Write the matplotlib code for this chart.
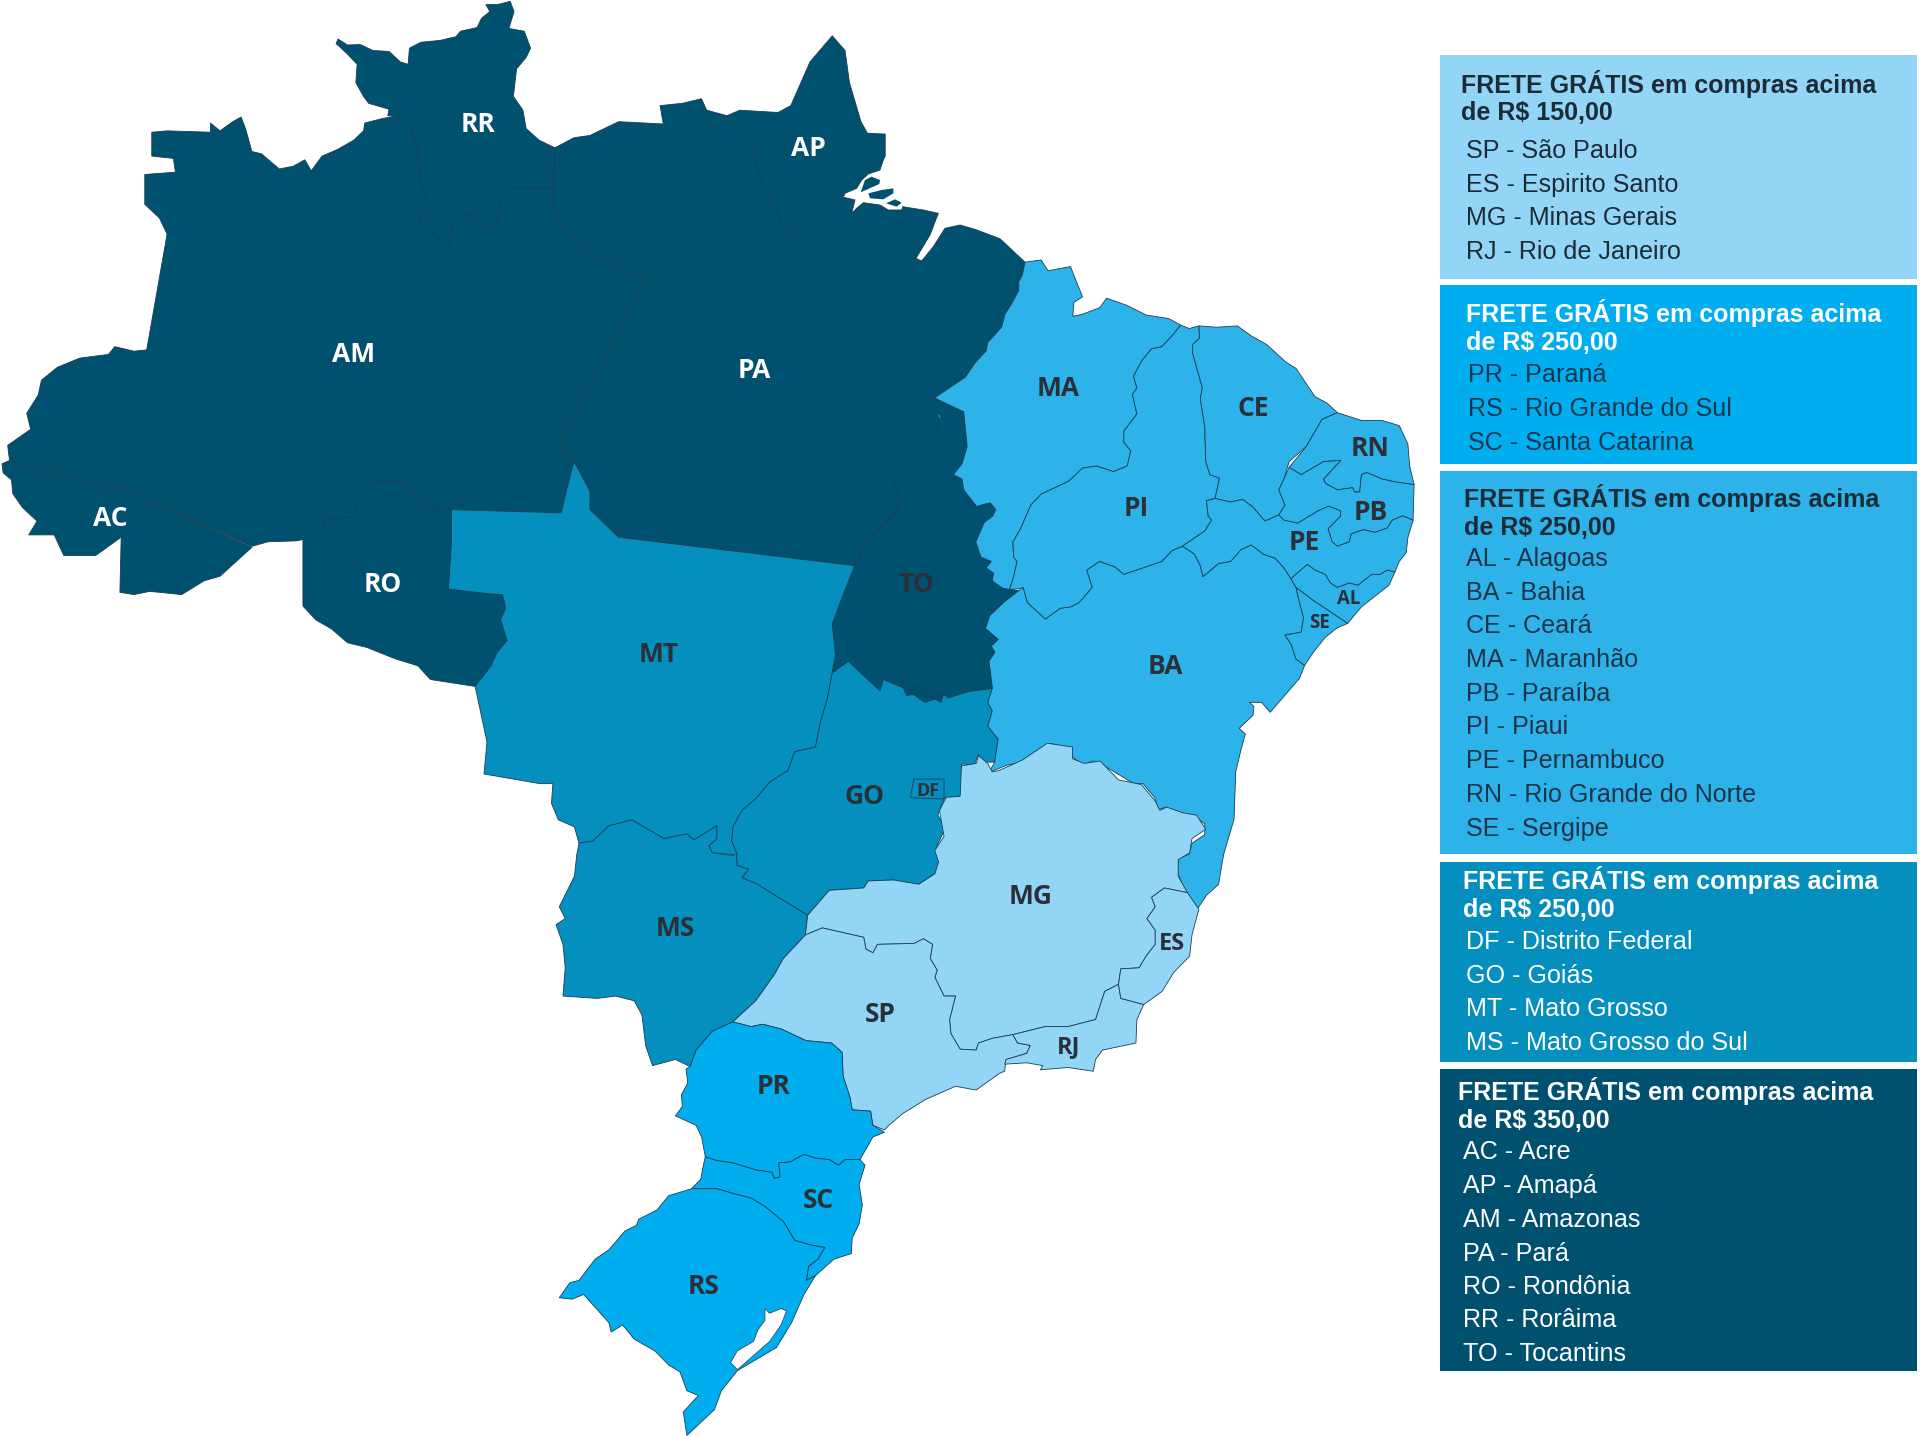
import numpy as np
import matplotlib
matplotlib.use("Agg")
import matplotlib.pyplot as plt
from matplotlib.patches import Polygon, Rectangle

W, H = 1920, 1437

# state outlines were traced on stretched crops of the picture, each helper maps back to pixels
def z2(p):
    return [(x / 1.568, y / 2.178) for x, y in p]
def z3(p):
    return [(900 + x / 2.904, 260 + y / 2.306) for x, y in p]
def z4(p):
    return [(540 + x / 2.178, 700 + y / 2.128) for x, y in p]
def z7(p):
    return [(830 + x / 3, 160 + y / 3) for x, y in p]

DARK, MID, SKY, BRIGHT, PALE = "#005170", "#048FBF", "#2DB3EA", "#00AEEF", "#92D5F6"

AM = z2([(238,288),(262,285),(330,288),(330,268),(345,285),(365,265),(378,255),(385,280),(395,330),(410,335),
         (438,368),(460,362),(478,348),(488,372),(505,340),(530,325),(555,305),(570,285),(572,268),(600,258),
         (620,253),(870,322),(868,410),(868,450),(880,490),(910,525),(935,560),(965,580),(985,605),(1017,600),
         (878,960),(900,1005),(888,1070),(880,1117),(708,1110),(600,1180),(475,1175),(465,1178),(420,1180),(395,1190),
         (195,1068),(105,1040),(15,1003),(12,970),(48,935),(42,900),(60,860),(65,828),(90,800),(125,780),(170,772),
         (180,755),(210,765),(230,762),(262,510),(250,475),(227,445),(227,380),(275,375),(272,345),(238,340)])
AC = z2([(15,1003),(3,1010),(5,1030),(18,1045),(20,1075),(35,1105),(58,1135),(45,1165),(85,1165),(100,1210),
         (150,1210),(190,1170),(188,1290),(210,1295),(235,1288),(285,1295),(320,1265),(345,1255),(395,1192),
         (195,1068),(105,1040)])
RR = z2([(622,253),(608,252),(610,238),(578,225),(570,210),(558,180),(560,140),(545,118),(527,95),(530,85),
         (545,98),(565,97),(585,110),(610,112),(628,135),(640,140),(642,105),(660,92),(690,88),(715,80),(722,68),
         (748,60),(755,40),(768,25),(762,10),(780,10),(800,3),(806,25),(798,62),(822,68),(832,105),(825,125),
         (810,150),(805,210),(820,240),(825,280),(845,305),(870,322),(868,410),(798,408),(785,440),(778,485),
         (760,493),(735,463),(712,480),(703,535),(657,483),(670,450),(658,385),(655,330),(645,280)])
PA = (z2([(870,322),(900,300),(925,295),(970,265),(1040,270),(1035,230),(1070,225),(1100,215),(1108,240),
          (1200,300),(1250,350),(1300,435)])
      + z7([(42,112),(75,120),(65,160),(80,145),(100,128),(150,135),(175,150),(215,150),(218,140),(280,150),
            (325,160),(300,225),(258,295),(275,303),(310,260),(345,205),(390,195)])
      + z2([(1530,500),(1568,520)])
      + z3([(363,5),(355,35),(345,50),(345,70),(325,100),(305,125),(295,155),(255,190),(250,210),(220,235),
            (190,270),(100,318),(150,400)])
      + z2([(1480,1000),(1430,1200),(1340,1232),(970,1170),(925,1110),(925,1070),(900,1005),(878,960),(1017,600),
            (985,605),(965,580),(935,560),(910,525),(880,490),(868,450),(868,410)]))
AP = (z2([(1108,240),(1140,252),(1160,240),(1220,245),(1240,230),(1270,135),(1305,78),(1325,110),(1332,180),
          (1350,265),(1360,290),(1388,292),(1388,340)])
      + z7([(160,0),(150,30),(115,42),(95,60),(80,85),(45,100),(42,108),(20,118),(0,135)])
      + z2([(1275,490),(1245,520),(1230,500),(1212,440),(1195,400),(1180,320),(1150,295),(1108,270)]))
MARAJO_A = z7([(105,60),(125,50),(150,60),(148,72),(92,97)])
MARAJO_B = z7([(115,100),(155,90),(190,85),(190,100),(160,118),(120,115)])
MARAJO_C = z7([(168,130),(195,118),(215,128),(200,140)])
MT = (z2([(708,1110),(880,1117),(888,1070),(900,1005),(925,1070),(925,1110),(970,1170),(1340,1232),(1400,1350),
          (1340,1400),(1330,1440),(1305,1465),(1295,1540)])
      + z4([(625,0),(610,50),(600,100),(555,110),(540,150),(500,175),(470,210),(440,235),(420,270),(418,300),
            (430,330),(375,325),(368,310),(385,295),(385,268),(335,298),(320,285),(270,295),(200,255),(150,268),
            (115,300),(85,305),(75,270),(40,255),(25,220),(28,178),(0,178)])
      + [(484,774), (487,742)]
      + z2([(745,1495),(703,1283)]))
MS = z4([(85,305),(115,300),(150,268),(200,255),(270,295),(320,285),(335,298),(385,268),(385,295),(368,310),
         (375,325),(428,332),(430,352),(455,360),(440,378),(470,390),(520,420),(583,458),(578,500),(530,550),
         (510,585),(470,640),(420,685),(375,705),(340,745),(327,780),(295,765),(245,778),(230,735),(222,670),
         (205,640),(165,630),(125,635),(50,630),(55,570),(50,520),(35,478),(55,465),(42,440),(75,375),(80,330)])
GO = (z4([(625,0),(610,50),(600,100),(555,110),(540,150),(500,175),(470,210),(440,235),(420,270),(418,300),
          (430,330),(428,332),(430,352),(455,360),(440,378),(470,390),(520,420),(583,458),(630,405),(705,400),
          (715,385),(770,383),(825,392),(860,370)])
      + z3([(108,1415),(118,1380),(105,1355),(132,1310),(110,1280),(128,1243),(178,1235),(185,1190),(180,1162),
            (215,1165),(228,1140),(235,1158),(275,1158),(285,1105),(255,1075),(268,1040),(255,1020),(268,988)])
      + z2([(1330,1440),(1305,1465)]))
DF = z3([(40,1197),(128,1197),(128,1243),(30,1240)])
TO = (z2([(1340,1232),(1360,1180),(1405,1115),(1410,1085),(1400,1050),(1415,1000),(1465,950),(1475,905),(1450,875)])
      + z3([(70,325),(100,318),(185,350),(195,430),(180,470),(155,495),(180,505),(185,530),(222,568),(262,560),
            (278,575),(270,590),(245,605),(220,650),(235,685),(265,695),(250,710),(272,722),(268,740),(300,758),
            (345,762),(300,790),(260,820),(248,850),(285,875),(265,890),(275,905),(258,925),(268,988),(200,995),
            (140,1010),(125,1000),(120,1020),(60,995),(20,1005),(0,970)])
      + z2([(1480,1515),(1450,1530),(1420,1500),(1385,1480),(1380,1505),(1330,1440),(1305,1465),(1310,1425),
            (1305,1360),(1318,1310)]))
RO = z2([(475,1175),(475,1320),(495,1350),(520,1370),(545,1400),(575,1410),(620,1435),(655,1450),(675,1480),
         (745,1495),(770,1450),(780,1420),(795,1395),(785,1350),(793,1325),(788,1295),(765,1293),(703,1283),
         (708,1180),(708,1110),(690,1095),(685,1115),(660,1090),(635,1050),(590,1048),(565,1085),(555,1125),
         (510,1132),(505,1155)])
MA = z3([(363,5),(410,0),(430,25),(495,15),(530,85),(505,98),(502,130),(530,125),(580,110),(600,88),(660,105),
         (715,127),(780,135),(815,150),(790,175),(760,200),(730,205),(700,235),(678,268),(688,295),(675,310),
         (688,355),(650,395),(650,420),(670,440),(660,475),(620,488),(570,475),(530,480),(490,510),(410,540),
         (380,565),(350,620),(328,650),(330,685),(340,695),(330,730),(318,760),(250,750),(150,500),(100,318),
         (190,270),(220,235),(250,210),(255,190),(295,155),(305,125),(325,100),(345,70),(345,50),(355,35)])
PI = z3([(815,150),(840,158),(868,152),(870,180),(850,195),(850,215),(878,295),(872,320),(885,385),(888,465),
         (900,495),(928,503),(915,550),(890,555),(895,590),(905,600),(885,625),(820,660),(790,670),(760,695),
         (650,725),(625,708),(580,695),(542,715),(558,755),(520,790),(495,800),(465,803),(422,828),(370,790),
         (358,755),(345,758),(318,760),(330,730),(340,695),(330,685),(328,650),(350,620),(380,565),(410,540),
         (490,510),(530,480),(570,475),(620,488),(660,475),(670,440),(650,420),(650,395),(688,355),(675,310),
         (688,295),(678,268),(700,235),(730,205),(760,200),(790,175)])
CE = z3([(868,152),(920,155),(980,152),(1020,175),(1065,195),(1120,235),(1150,250),(1205,315),(1240,330),
         (1270,352),(1225,368),(1180,430),(1130,465),(1115,505),(1100,530),(1118,565),(1100,588),(1060,602),
         (1025,570),(995,552),(960,558),(915,550),(928,503),(900,495),(888,465),(885,385),(872,320),(878,295),
         (850,215),(850,195),(870,180)])
RN = z3([(1270,352),(1340,370),(1400,370),(1450,382),(1475,425),(1480,475),(1493,518),(1440,512),(1400,505),
         (1355,490),(1340,495),(1335,535),(1320,535),(1315,525),(1270,530),(1235,515),(1230,505),(1280,462),
         (1230,465),(1165,495),(1130,478),(1180,430),(1225,368)])
PB = z3([(1130,478),(1165,495),(1230,465),(1280,462),(1230,505),(1235,515),(1270,530),(1315,525),(1320,535),
         (1335,535),(1340,495),(1355,490),(1400,505),(1440,512),(1493,518),(1490,600),(1460,590),(1430,600),
         (1415,618),(1380,628),(1345,622),(1310,632),(1305,650),(1270,660),(1255,650),(1243,620),(1280,590),
         (1278,578),(1245,568),(1215,578),(1155,607),(1115,600),(1100,588),(1118,565),(1100,530),(1115,505)])
PE = z3([(890,555),(915,550),(960,558),(995,552),(1025,570),(1060,602),(1100,588),(1115,600),(1155,607),(1215,578),
         (1245,568),(1278,578),(1280,590),(1243,620),(1255,650),(1270,660),(1305,650),(1310,632),(1345,622),
         (1380,628),(1415,618),(1430,600),(1460,590),(1490,600),(1475,640),(1470,675),(1450,695),(1437,720),
         (1415,715),(1395,725),(1370,725),(1330,750),(1305,745),(1270,755),(1250,745),(1235,725),(1205,715),
         (1183,702),(1135,735),(1115,710),(1090,688),(1055,678),(1020,657),(990,668),(960,695),(925,700),(880,730),
         (872,705),(855,678),(820,660),(885,625),(905,600),(895,590)])
AL = z3([(1135,735),(1183,702),(1205,715),(1235,725),(1250,745),(1270,755),(1305,745),(1330,750),(1370,725),
         (1395,725),(1415,715),(1437,720),(1420,750),(1380,775),(1340,800),(1300,838),(1200,785),(1150,755)])
SE = z3([(1150,755),(1200,785),(1300,838),(1270,848),(1235,870),(1200,905),(1175,935),(1150,920),(1135,885),
         (1118,865),(1165,858),(1172,825),(1160,790)])
BA = z3([(300,790),(345,762),(358,755),(370,790),(422,828),(465,803),(495,800),(520,790),(558,755),(542,715),
         (580,695),(625,708),(650,725),(760,695),(790,670),(820,660),(855,678),(872,705),(880,730),(925,700),
         (960,695),(990,668),(1020,657),(1055,678),(1090,688),(1115,710),(1135,735),(1150,755),(1160,790),
         (1172,825),(1165,858),(1118,865),(1135,885),(1150,920),(1175,935),(1160,965),(1075,1043),(1050,1020),
         (1015,1020),(1028,1030),(1025,1050),(985,1080),(1003,1093),(990,1130),(975,1180),(970,1290),(940,1370),
         (925,1440),(890,1465),(865,1495),(830,1460),(805,1410),(810,1380),(840,1370),(848,1345),(885,1325),
         (885,1300),(860,1285),(800,1270),(770,1262),(750,1268),(740,1240),(705,1207),(680,1208),(590,1165),
         (560,1155),(530,1165),(500,1145),(500,1125),(435,1115),(390,1135),(345,1160),(310,1165),(258,1182),
         (275,1158),(285,1105),(255,1075),(268,1040),(255,1020),(268,988),(258,925),(275,905),(265,890),(285,875),
         (248,850),(260,820)])
MG = z4([(583,458),(630,405),(705,400),(715,385),(770,383),(825,392),(860,370),(868,345),(860,320),(880,290),
         (870,235),(885,207),(915,205),(918,140),(950,135),(955,118),(975,135),(985,153),(1000,150),(1050,128),
         (1105,92),(1160,100),(1160,125),(1185,135),(1220,130),(1260,170),(1310,180),(1340,215),(1350,235),
         (1365,228),(1400,240),(1430,245),(1450,275),(1420,295),(1415,325),(1390,340),(1390,375),(1410,410),
         (1360,400),(1332,420),(1340,440),(1322,465),(1340,490),(1340,520),(1320,545),(1305,570),(1265,572),
         (1260,605),(1230,620),(1210,680),(1150,695),(1100,695),(1030,712),(985,720),(955,730),(950,745),(915,743),
         (895,710),(892,680),(905,630),(880,630),(860,590),(865,575),(850,550),(855,520),(835,508),(815,518),
         (735,520),(725,538),(710,530),(705,505),(660,495),(615,485),(578,500)])
SP = z4([(578,500),(615,485),(660,495),(705,505),(710,530),(725,538),(735,520),(815,518),(835,508),(855,520),
         (850,550),(865,575),(860,590),(880,630),(905,630),(892,680),(895,710),(915,743),(950,745),(955,730),
         (985,720),(1030,712),(1040,730),(1068,735),(1060,752),(1015,765),(1012,790),(1000,795),(950,830),(905,822),
         (840,850),(790,880),(760,905),(750,915),(725,905),(720,875),(680,872),(675,845),(660,800),(658,750),
         (635,730),(580,725),(525,700),(485,690),(460,695),(420,685),(470,640),(510,585),(530,550)])
RJ = z4([(1030,712),(1100,695),(1150,695),(1210,680),(1230,620),(1260,605),(1265,635),(1315,648),(1300,680),
         (1298,730),(1225,745),(1210,765),(1205,790),(1150,782),(1090,787),(1095,778),(1060,772),(1012,775),
         (1015,765),(1060,752),(1068,735),(1040,730)])
ES = z4([(1360,400),(1410,410),(1435,445),(1420,500),(1415,545),(1380,580),(1355,620),(1315,648),(1265,635),
         (1260,605),(1265,572),(1305,570),(1320,545),(1340,520),(1340,490),(1322,465),(1340,440),(1332,420)])
PR = z4([(420,685),(375,705),(340,745),(327,780),(318,785),(322,815),(308,840),(310,865),(295,885),(340,905),
         (352,930),(360,972),(385,980),(420,985),(470,1000),(505,1005),(510,1018),(523,1015),(520,985),(545,983),
         (575,967),(600,975),(630,978),(650,990),(665,978),(697,978),(725,930),(750,920),(725,905),(720,875),
         (680,872),(675,845),(660,800),(658,750),(635,730),(580,725),(525,700),(485,690),(460,695)])
SC = z4([(360,972),(385,980),(420,985),(470,1000),(505,1005),(510,1018),(523,1015),(520,985),(545,983),(575,967),
         (600,975),(630,978),(650,990),(665,978),(697,978),(708,990),(695,1030),(702,1075),(695,1115),(680,1145),
         (678,1178),(640,1190),(600,1225),(580,1235),(585,1205),(605,1190),(620,1165),(590,1160),(555,1150),
         (530,1110),(490,1078),(460,1060),(420,1050),(385,1040),(330,1040),(350,1020),(357,985)])
RS = z4([(330,1040),(385,1040),(420,1050),(460,1060),(490,1078),(530,1110),(555,1150),(590,1160),(620,1165),
         (605,1190),(585,1205),(580,1235),(600,1225),(575,1265),(548,1325),(515,1378),(430,1427),(395,1470),
         (380,1510),(320,1565),(312,1515),(345,1480),(320,1470),(305,1430),(280,1415),(250,1385),(205,1360),
         (180,1330),(155,1345),(150,1325),(95,1265),(70,1275),(42,1272),(65,1240),(85,1235),(120,1190),(150,1170),
         (185,1130),(210,1118),(215,1105),(255,1085),(280,1055)])
LAGOON = z4([(490,1295),(500,1305),(525,1295),(537,1300),(525,1330),(500,1365),(430,1425),(415,1410),(430,1385),
             (465,1365),(475,1340),(490,1320)])

# later states sit on top of earlier ones, so the shared borders come from the later outline
STATES = [(AM, DARK), (AC, DARK), (PA, DARK), (RR, DARK), (AP, DARK), (MT, MID), (MS, MID), (GO, MID), (DF, MID),
          (MA, SKY), (BA, SKY), (PI, SKY), (CE, SKY), (RN, SKY), (PB, SKY), (PE, SKY), (AL, SKY), (SE, SKY),
          (TO, DARK), (RO, DARK), (MG, PALE), (SP, PALE), (RJ, PALE), (ES, PALE),
          (PR, BRIGHT), (SC, BRIGHT), (RS, BRIGHT)]
ISLANDS = [MARAJO_A, MARAJO_B, MARAJO_C]

LABELS = ["AM", "RR", "AP", "PA", "AC", "RO", "MT", "TO", "GO", "DF", "MS", "MA", "PI", "CE", "RN", "PB", "PE",
          "AL", "SE", "BA", "MG", "ES", "SP", "RJ", "PR", "SC", "RS"]
LABEL_X = [354, 478, 808, 754, 110, 383, 659, 916, 864, 928, 675, 1058, 1136, 1253, 1370, 1371, 1304,
           1349, 1319, 1165, 1031, 1172, 880, 1069, 774, 818, 703]
LABEL_Y = [354, 125, 148, 371, 518, 584, 655, 585, 796, 791, 929, 389, 508, 408, 449, 513, 542,
           599, 623, 666, 896, 944, 1014, 1047, 1087, 1201, 1287]
LABEL_SIZE = [19, 19, 19, 19, 19, 19, 19, 19, 19, 13, 19, 19, 19, 19, 19, 19, 19,
              13.5, 13.5, 19, 19, 17, 19, 17, 19, 19, 19]
WHITE_LABELS = ["AM", "RR", "AP", "PA", "AC", "RO"]

HEADING_150 = ["FRETE GRÁTIS em compras acima", "de R$ 150,00"]
HEADING_250 = ["FRETE GRÁTIS em compras acima", "de R$ 250,00"]
HEADING_350 = ["FRETE GRÁTIS em compras acima", "de R$ 350,00"]
LIST_1 = ["SP - São Paulo", "ES - Espirito Santo", "MG - Minas Gerais", "RJ - Rio de Janeiro"]
LIST_2 = ["PR - Paraná", "RS - Rio Grande do Sul", "SC - Santa Catarina"]
LIST_3 = ["AL - Alagoas", "BA - Bahia", "CE - Ceará", "MA - Maranhão", "PB - Paraíba", "PI - Piaui",
          "PE - Pernambuco", "RN - Rio Grande do Norte", "SE - Sergipe"]
LIST_4 = ["DF - Distrito Federal", "GO - Goiás", "MT - Mato Grosso", "MS - Mato Grosso do Sul"]
LIST_5 = ["AC - Acre", "AP - Amapá", "AM - Amazonas", "PA - Pará", "RO - Rondônia", "RR - Rorâima", "TO - Tocantins"]

# top, bottom, fill, heading x, heading colour, heading baselines, body x, body colour, body baselines
BOXES = [
    (55, 279, PALE, 1461, "#1d2b36", HEADING_150, [93, 120], 1466, "#1d2b36", LIST_1, [158, 192, 225, 259]),
    (285, 464, BRIGHT, 1466, "white", HEADING_250, [322, 350], 1468, "#10384f", LIST_2, [382, 416, 450]),
    (471, 854, SKY, 1464, "#1d2b36", HEADING_250, [507, 535], 1466, "#1d3447", LIST_3,
     [566, 600, 633, 667, 701, 734, 768, 802, 836]),
    (862, 1062, MID, 1463, "white", HEADING_250, [889, 917], 1466, "white", LIST_4, [949, 983, 1016, 1050]),
    (1069, 1371, DARK, 1458, "white", HEADING_350, [1100, 1128], 1463, "white", LIST_5,
     [1159, 1193, 1227, 1261, 1294, 1327, 1361]),
]

fig = plt.figure(figsize=(W / 100, H / 100), dpi=100)
ax = fig.add_axes([0, 0, 1, 1])
ax.set_xlim(0, W)
ax.set_ylim(H, 0)
ax.axis("off")

for pts, color in STATES:
    ax.add_patch(Polygon(np.array(pts), closed=True, facecolor=color, edgecolor="#1c3d4f",
                         linewidth=0.6, joinstyle="round"))
ax.add_patch(Polygon(np.array(LAGOON), closed=True, facecolor="white", edgecolor="#1c3d4f", linewidth=0.5))
for pts in ISLANDS:
    ax.add_patch(Polygon(np.array(pts), closed=True, facecolor=DARK, edgecolor="none"))

for name, x, y, size in zip(LABELS, LABEL_X, LABEL_Y, LABEL_SIZE):
    color = "white" if name in WHITE_LABELS else "#2b2f38"
    ax.text(x, y, name, ha="center", va="center", fontsize=size, fontfamily="Open Sans", fontweight="bold",
            color=color)

for top, bottom, fill, hx, hcol, head, hy, bx, bcol, body, by in BOXES:
    ax.add_patch(Rectangle((1440, top), 477, bottom - top, facecolor=fill, edgecolor="none"))
    for line, y in zip(head, hy):
        ax.text(hx, y, line, va="baseline", fontsize=18, fontweight="bold", fontfamily="Liberation Sans", color=hcol)
    for line, y in zip(body, by):
        ax.text(bx, y, line, va="baseline", fontsize=18.1, fontfamily="Liberation Sans", color=bcol)

fig.savefig("out.png", dpi=100)
